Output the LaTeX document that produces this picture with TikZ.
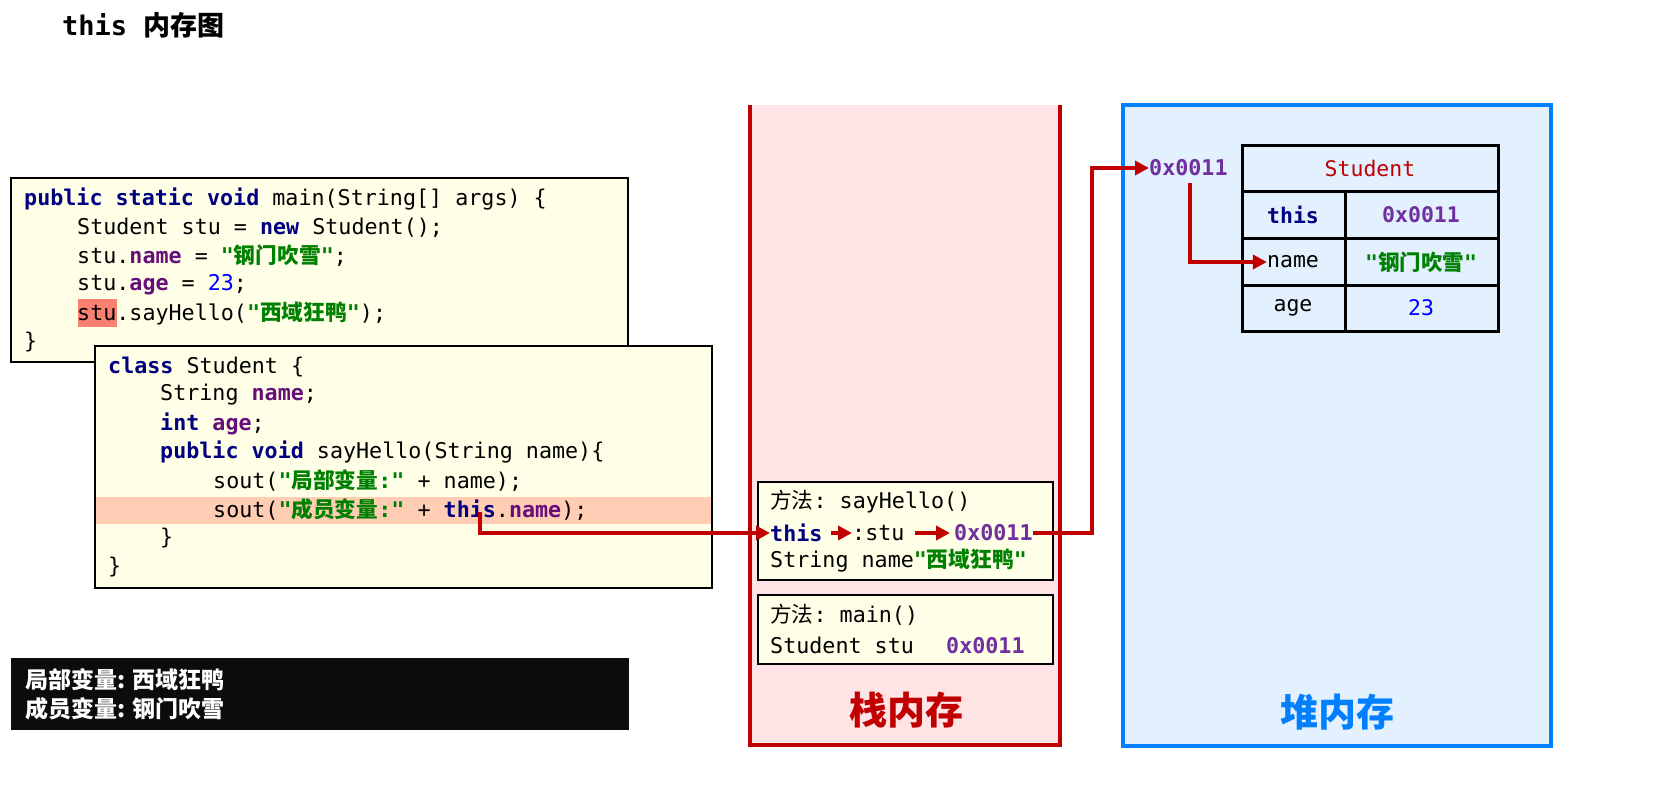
\documentclass[tikz,border=0pt]{standalone}
\usepackage{fontspec}
\setmainfont{DejaVu Sans}
\setmonofont{DejaVu Sans Mono}
\newfontfamily\cjk{Noto Sans CJK SC}
\usetikzlibrary{arrows.meta}
\definecolor{kwc}{HTML}{000080}
\definecolor{fdc}{HTML}{660E7A}
\definecolor{stc}{HTML}{008000}
\definecolor{nmc}{HTML}{0000FF}
\definecolor{adc}{HTML}{7030A0}
\definecolor{redc}{HTML}{C00000}
\definecolor{heapc}{HTML}{0080FF}
\definecolor{codebg}{HTML}{FFFFE8}
\definecolor{stackbg}{HTML}{FFE4E6}
\definecolor{heapbg}{HTML}{E3F1FF}
\definecolor{hlrow}{HTML}{FFCCB4}
\definecolor{hlstu}{HTML}{FA8072}
\definecolor{consbg}{HTML}{0C0C0C}
\newcommand{\zh}[1]{{\cjk #1}}
\newcommand{\zhb}[1]{{\cjk\bfseries #1}}
\newcommand{\kw}[1]{\textcolor{kwc}{\textbf{#1}}}
\newcommand{\fd}[1]{\textcolor{fdc}{\textbf{#1}}}
\newcommand{\st}[1]{\textcolor{stc}{\textbf{#1}}}
\newcommand{\nm}[1]{\textcolor{nmc}{#1}}
\newcommand{\ad}[1]{\textcolor{adc}{\textbf{#1}}}
\begin{document}
\begin{tikzpicture}[x=1pt,y=-1pt,
  code/.style={anchor=west,inner sep=0pt,font=\ttfamily\fontsize{21.7}{23}\selectfont},
  box/.style={draw=black,line width=1.5pt,fill=codebg},
  cell/.style={inner sep=0pt,font=\ttfamily\fontsize{21.5}{23}\selectfont},
  arr/.style={draw=redc,line width=3.5pt,-{Triangle[length=14pt,width=14pt]}}]
\useasboundingbox (0,0) rectangle (1667,806);
\fill[white] (0,0) rectangle (1667,806);
\node[code,font=\ttfamily\bfseries\fontsize{27}{29}\selectfont] (title) at (62,25) {this \zhb{内存图}};
% stack
\fill[stackbg] (750,105) rectangle (1060,745);
\draw[redc,line width=3.5pt] (750,105) -- (750,745) -- (1060,745) -- (1060,105);
\node[text=redc,font=\cjk\bfseries\fontsize{38}{40}\selectfont] (stk) at (906,710) {栈内存};
% heap
\draw[heapc,line width=3.5pt,fill=heapbg] (1123,105) rectangle (1551,746);
\node[text=heapc,font=\cjk\bfseries\fontsize{38}{40}\selectfont] (hp) at (1337,712) {堆内存};
% main code
\draw[box] (11,178) rectangle (628,362);
\fill[hlstu] (78,299) rectangle (117,327);
\node[code] (m1) at (24,199) {\kw{public static void} main(String[] args) \{};
\node[code] (m2) at (77,228) {Student stu = \kw{new} Student();};
\node[code] (m3) at (77,256) {stu.\fd{name} = \st{"\zhb{钢门吹雪}"};};
\node[code] (m4) at (77,285) {stu.\fd{age} = \nm{23};};
\node[code] (m5) at (77,313) {stu.sayHello(\st{"\zhb{西域狂鸭}"});};
\node[code] (m6) at (24,342) {\}};
% class code
\draw[box] (95,346) rectangle (712,588);
\fill[hlrow] (96,497) rectangle (711,524);
\node[code] (c1) at (108,367) {\kw{class} Student \{};
\node[code] (c2) at (160,395) {String \fd{name};};
\node[code] (c3) at (160,424) {\kw{int} \fd{age};};
\node[code] (c4) at (160,452) {\kw{public void} sayHello(String name)\{};
\node[code] (c5) at (213,481) {sout(\st{"\zhb{局部变量}:"} + name);};
\node[code] (c6) at (213,510) {sout(\st{"\zhb{成员变量}:"} + \kw{this}.\fd{name});};
\node[code] (c7) at (160,538) {\}};
\node[code] (c8) at (108,567) {\}};
% console
\fill[consbg] (11,658) rectangle (629,730);
\node[code,text=white,font=\cjk\bfseries\fontsize{23}{25}\selectfont] (o1) at (25,680) {局部变量: 西域狂鸭};
\node[code,text=white,font=\cjk\bfseries\fontsize{23}{25}\selectfont] (o2) at (25,709) {成员变量: 钢门吹雪};
% frames
\draw[box] (758,482) rectangle (1053,580);
\node[code] (f1) at (770,502) {\zh{方法}: sayHello()};
\node[code] (fthis) at (770,533) {\kw{this}};
\node[code] (fstu) at (852,533) {:stu};
\node[code] (faddr) at (954,533) {\ad{0x0011}};
\node[code] (f3) at (770,561) {String name\st{"\zhb{西域狂鸭}"}};
\draw[box] (758,595) rectangle (1053,664);
\node[code] (g1) at (770,615) {\zh{方法}: main()};
\node[code] (g2) at (770,645) {Student stu};
\node[code] (g3) at (946,646) {\ad{0x0011}};
% heap object
\node[code] (haddr) at (1149,168) {\ad{0x0011}};
\draw[black,line width=3pt] (1242,145) rectangle (1498,331);
\draw[black,line width=3pt] (1242,191) -- (1498,191) (1242,238) -- (1498,238) (1242,285) -- (1498,285) (1345,191) -- (1345,331);
\node[cell,text=redc] (tstu) at (1370,168) {Student};
\node[cell] (tthis) at (1293,215) {\kw{this}};
\node[cell] (tthisv) at (1421,215) {\ad{0x0011}};
\node[cell] (tname) at (1293,262) {name};
\node[cell] (tnamev) at (1421,262) {\st{"\zhb{钢门吹雪}"}};
\node[cell] (tage) at (1293,308) {age};
\node[cell] (tagev) at (1421,308) {\nm{23}};
% arrows
\coordinate (s0) at (480,512);
\draw[arr] (s0) |- (fthis.west);
\draw[arr] (831,533) -- (fstu.west);
\draw[arr] (915,533) -- ([xshift=-4pt]faddr.west);
\draw[arr] (faddr.east) -| (1092,168) -- (haddr.west);
\draw[arr] (1190,183) |- (tname.west);
\end{tikzpicture}
\end{document}
